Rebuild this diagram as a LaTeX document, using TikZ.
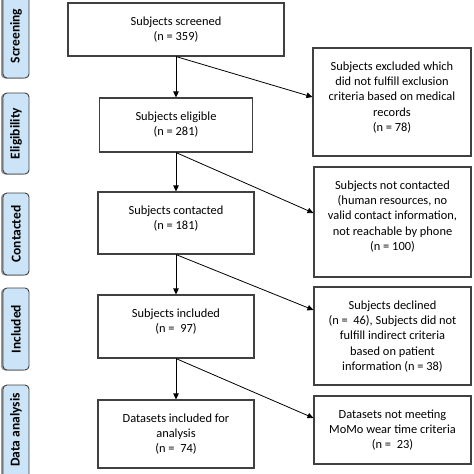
\documentclass[tikz,border=0pt]{standalone}
\usepackage{fontspec}
\setmainfont{Carlito}
\usepackage{graphicx}
\usetikzlibrary{arrows.meta,shadows}
\definecolor{boxgray}{HTML}{404040}
\definecolor{stageblue}{HTML}{CCE4F7}
\tikzset{
  flowbox/.style={draw=boxgray, line width=1.1pt, inner sep=0pt, fill=white},
  flowtxt/.style={anchor=north, align=center, inner sep=0pt, font=\fontsize{12.4}{15.3}\selectfont},
  stagebox/.style={draw=boxgray, line width=0.9pt, rounded corners=4pt, fill=stageblue, inner sep=0pt,
     minimum width=26pt, font=\fontsize{13.5}{15}\selectfont\bfseries,
     drop shadow={shadow xshift=-2pt, shadow yshift=-0.5pt, fill=gray!80, opacity=1}},
  arr/.style={-{Triangle[length=6pt,width=5.5pt]}, line width=0.8pt, draw=black}
}
\begin{document}
\begin{tikzpicture}[x=1pt,y=-1pt]
\useasboundingbox (0,0) rectangle (474,474);
\clip (0,0) rectangle (474,474);
\fill[white] (0,0) rectangle (474,474);
% stage labels
\node[stagebox, minimum height=84pt] (s1) at (16,36) {\rotatebox{90}{Screening}};
\node[stagebox, minimum height=81pt] (s2) at (16,133.5) {\rotatebox{90}{Eligibility}};
\node[stagebox, minimum height=82pt] (s3) at (16,234) {\rotatebox{90}{Contacted}};
\node[stagebox, minimum height=82pt] (s4) at (16,329) {\rotatebox{90}{Included}};
\node[stagebox, minimum height=110pt] (s5) at (16,440) {};
\node[font=\fontsize{13.5}{15}\selectfont\bfseries, inner sep=0pt] (s5t) at (16,430) {\rotatebox{90}{Data analysis}};
% main boxes
\node[flowbox, minimum width=216pt, minimum height=53pt] (scr) at (176,29.5) {};
\node[flowbox, minimum width=153pt, minimum height=54pt] (eli) at (176,125) {};
\node[flowbox, minimum width=156pt, minimum height=62pt] (con) at (176,223) {};
\node[flowbox, minimum width=156pt, minimum height=63pt] (inc) at (176,326.5) {};
\node[flowbox, minimum width=156pt, minimum height=68pt] (ana) at (176,434) {};
% right boxes
\node[flowbox, minimum width=158pt, minimum height=108pt] (exc) at (392,102) {};
\node[flowbox, minimum width=157pt, minimum height=110pt] (ncon) at (392.5,222) {};
\node[flowbox, minimum width=157pt, minimum height=98pt] (dec) at (392.5,336) {};
\node[flowbox, minimum width=157pt, minimum height=68pt] (nmeet) at (392.5,430) {};
% texts
\node[flowtxt] (scrt) at ([yshift=-14pt]scr.north) {Subjects screened\\(n = 359)};
\node[flowtxt] (elit) at ([yshift=-14pt]eli.north) {Subjects eligible\\(n = 281)};
\node[flowtxt] (cont) at ([yshift=-14pt]con.north) {Subjects contacted\\(n = 181)};
\node[flowtxt] (inct) at ([yshift=-14pt]inc.north) {Subjects included\\(n =\ \ 97)};
\node[flowtxt] (anat) at ([yshift=-14pt]ana.north) {Datasets included for\\analysis\\(n =\ \ 74)};
\node[flowtxt] (exct) at ([yshift=-14pt]exc.north) {Subjects excluded which\\did not fulfill exclusion\\criteria based on medical\\records\\(n = 78)};
\node[flowtxt] (ncont) at ([yshift=-14pt]ncon.north) {Subjects not contacted\\(human resources, no\\valid contact information,\\not reachable by phone\\(n = 100)};
\node[flowtxt] (dect) at ([yshift=-14pt]dec.north) {Subjects declined\\(n =\ \ 46), Subjects did not\\fulfill indirect criteria\\based on patient\\information (n = 38)};
\node[flowtxt] (nmeett) at ([yshift=-14pt]nmeet.north) {Datasets not meeting\\MoMo wear time criteria\\(n =\ \ 23)};
% arrows
\draw[arr] (scr.south) -- (eli.north);
\draw[arr] (eli.south) -- (con.north);
\draw[arr] (con.south) -- (inc.north);
\draw[arr] (inc.south) -- (ana.north);
\draw[arr] (scr.south) -- ([yshift=5pt]exc.west);
\draw[arr] (eli.south) -- ([yshift=9pt]ncon.west);
\draw[arr] (con.south) -- ([yshift=26pt]dec.west);
\draw[arr] (inc.south) -- ([yshift=12pt]nmeet.west);
\end{tikzpicture}
\end{document}
